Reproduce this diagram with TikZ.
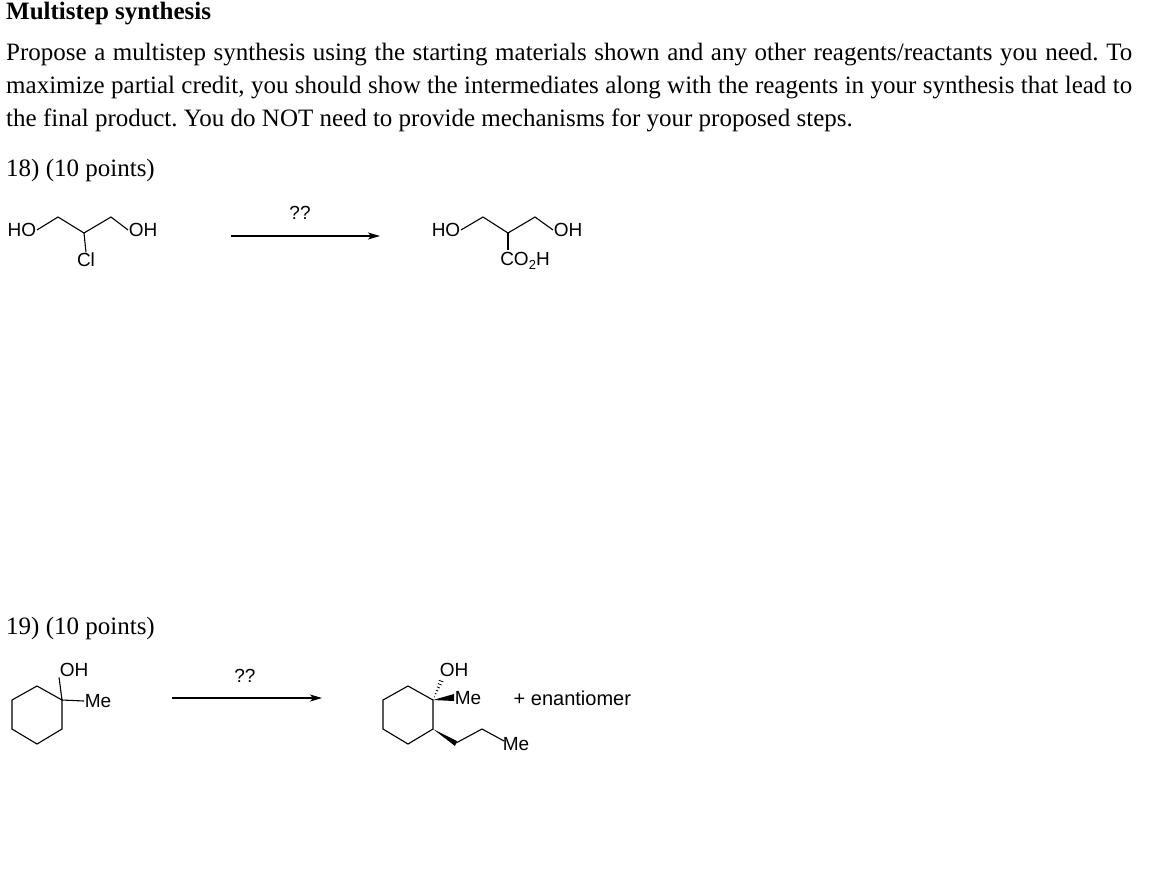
\documentclass[tikz,border=0pt]{standalone}
\usepackage{fontspec}
\usetikzlibrary{calc,arrows.meta}
\setmainfont{Liberation Serif}
\newfontfamily\chem{Liberation Sans}
\newcommand{\subtwo}{\raisebox{-0.35ex}{\fontsize{13}{13}\selectfont 2}}
\begin{document}
\begin{tikzpicture}[x=1pt,y=-1pt,
  bd/.style={line width=1.1pt},
  lbl/.style={font=\chem\fontsize{19}{21}\selectfont, inner sep=0.5pt},
  arr/.style={line width=1.2pt,-{Stealth[length=12pt,width=7pt,inset=3pt]}},
  txt/.style={anchor=west, inner sep=0, font=\fontsize{25}{33}\selectfont}]
\useasboundingbox (0,0) rectangle (1154,868);
\node[txt, font=\bfseries\fontsize{25}{26}\selectfont] (title) at (6,14) {Multistep synthesis};
\node[txt, anchor=north west, text width=1126, align=justify] (para) at (6,43)
 {\frenchspacing Propose a multistep synthesis using the starting materials shown and any other reagents/reactants you need. To\linebreak maximize partial credit, you should show the intermediates along with the reagents in your synthesis that lead to\linebreak the final product. You do NOT need to provide mechanisms for your proposed steps.};
\node[txt] (q18) at (6,170) {18) (10 points)};
\node[txt] (q19) at (6,628) {19) (10 points)};
% molecule 1
\node[lbl] (ho1) at (22,230) {HO};
\node[lbl] (oh1) at (143,230) {OH};
\node[lbl] (cl1) at (86,260) {Cl};
\coordinate (a1) at (58,217); \coordinate (a2) at (84,233); \coordinate (a3) at (111,217);
\draw[bd] (ho1.east) -- (a1) -- (a2) -- (a3) -- (oh1.west);
\draw[bd] (a2) -- (cl1.north);
% arrow 1
\coordinate (s1) at (231,236); \coordinate (e1) at (380,236);
\draw[arr] (s1) -- (e1);
\node[lbl] (r1) at (300,213) {??};
% molecule 2
\node[lbl] (ho2) at (446,230) {HO};
\node[lbl] (oh2) at (568,230) {OH};
\node[lbl] (co2h) at (525,261) {CO\subtwo H};
\coordinate (b1) at (483,217); \coordinate (b2) at (508,233); \coordinate (b3) at (535,217);
\draw[bd] (ho2.east) -- (b1) -- (b2) -- (b3) -- (oh2.west);
\draw[bd] (b2) -- (508,250);
% molecule 3
\coordinate (c1) at (62,700); \coordinate (c2) at (62,729); \coordinate (c3) at (37,744);
\coordinate (c4) at (12,729); \coordinate (c5) at (12,700); \coordinate (c6) at (37,686);
\draw[bd] (c1)--(c2)--(c3)--(c4)--(c5)--(c6)--cycle;
\node[lbl] (oh3) at (74,670) {OH};
\node[lbl] (me3) at (98,701) {Me};
\draw[bd] (c1) -- (oh3.south west);
\draw[bd] (c1) -- (me3.west);
% arrow 2
\coordinate (s2) at (172,698); \coordinate (e2) at (322,698);
\draw[arr] (s2) -- (e2);
\node[lbl] (r2) at (245,676) {??};
% molecule 4
\coordinate (d1) at (433,700); \coordinate (d2) at (433,729); \coordinate (d3) at (408,744);
\coordinate (d4) at (383,729); \coordinate (d5) at (383,700); \coordinate (d6) at (408,686);
\draw[bd] (d1)--(d2)--(d3)--(d4)--(d5)--(d6)--cycle;
\node[lbl] (oh4) at (454,670) {OH};
\node[lbl] (me4) at (468,698) {Me};
\node[lbl] (me5) at (516,744) {Me};
\node[lbl, anchor=west, font=\chem\fontsize{20}{22}\selectfont] (en) at (513,698) {+\ enantiomer};
\foreach \t in {0.15,0.3,...,0.95}
  \draw[line width=0.8pt] ($(d1)!\t!(442,679)+(-\t*2.5,-\t*1)$) -- ($(d1)!\t!(442,679)+(\t*2.5,\t*1)$);
\fill (d1) -- (454,694) -- (454,701) -- cycle;
\fill (d2) -- (457,741) -- (455,746) -- cycle;
\draw[bd] (456,743) -- (482,729) -- (504,741);
\end{tikzpicture}
\end{document}
